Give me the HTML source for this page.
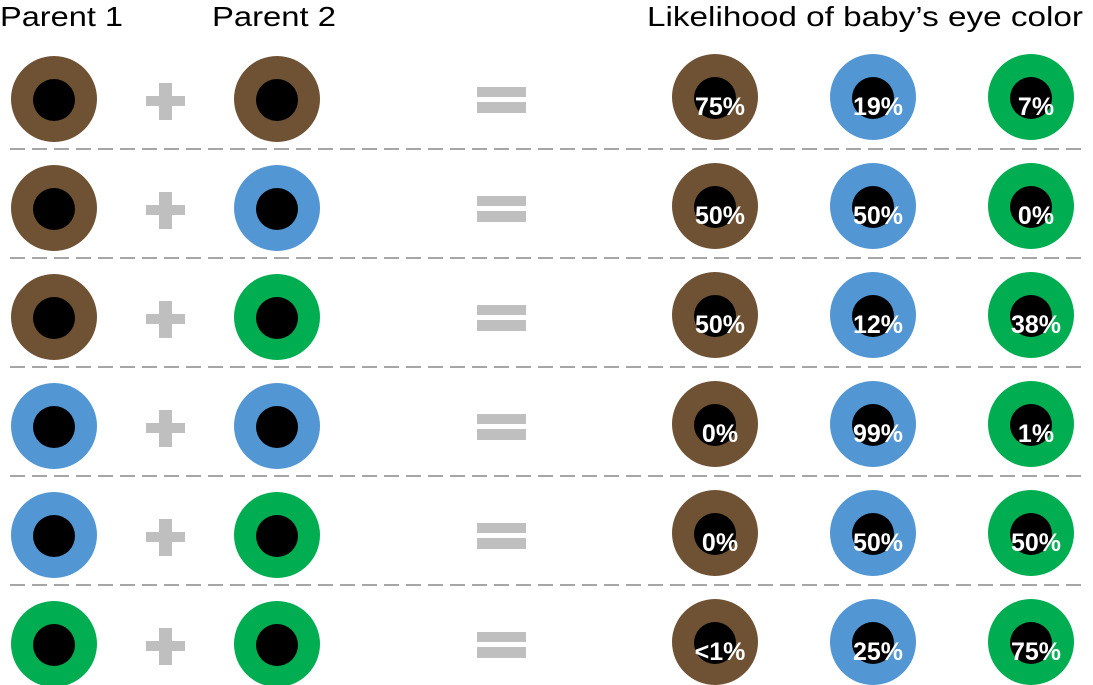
<!DOCTYPE html>
<html><head><meta charset="utf-8"><style>
html,body{margin:0;padding:0;background:#fff;}
svg{display:block;}
text{font-family:"Liberation Sans",sans-serif;}
</style></head><body>
<svg width="1093" height="685" viewBox="0 0 1093 685" xmlns="http://www.w3.org/2000/svg">
<text x="0" y="26" font-size="28" fill="#000" textLength="123" lengthAdjust="spacingAndGlyphs">Parent 1</text>
<text x="212" y="26" font-size="28" fill="#000" textLength="124" lengthAdjust="spacingAndGlyphs">Parent 2</text>
<text x="647" y="26" font-size="28" fill="#000" textLength="436" lengthAdjust="spacingAndGlyphs">Likelihood of baby’s eye color</text>
<g stroke="#a6a6a6" stroke-width="2" stroke-dasharray="15 7">
<line x1="10" y1="149" x2="1083" y2="149"/>
<line x1="10" y1="258" x2="1083" y2="258"/>
<line x1="10" y1="367" x2="1083" y2="367"/>
<line x1="10" y1="476" x2="1083" y2="476"/>
<line x1="10" y1="585" x2="1083" y2="585"/>
</g>
<g id="rows"></g>
</svg>
<script>
(function(){
var B="#6f5133",L="#5296d3",G="#00ad50";
var rows=[[B,B,"75%","19%","7%"],[B,L,"50%","50%","0%"],[B,G,"50%","12%","38%"],[L,L,"0%","99%","1%"],[L,G,"0%","50%","50%"],[G,G,"<1%","25%","75%"]];
var s="";
function eye(x,y,c){return '<circle cx="'+x+'" cy="'+y+'" r="43" fill="'+c+'"/><circle cx="'+x+'" cy="'+(y+1)+'" r="21" fill="#000"/>';}
rows.forEach(function(r,i){
var y=97+i*109;
s+=eye(54,y+2,r[0])+eye(277,y+2,r[1]);
s+='<rect x="146" y="'+(y-1)+'" width="39" height="10" fill="#bfbfbf"/><rect x="159" y="'+(y-14)+'" width="13" height="37" fill="#bfbfbf"/>';
s+='<rect x="477" y="'+(y-10)+'" width="49" height="10" fill="#bfbfbf"/><rect x="477" y="'+(y+5)+'" width="49" height="11" fill="#bfbfbf"/>';
var xs=[715,873,1031],cs=[B,L,G];
for(var k=0;k<3;k++){s+=eye(xs[k],y,cs[k]);
var t=r[2+k].replace("<","&lt;");
s+='<text x="'+(xs[k]+5)+'" y="'+(y+18)+'" font-size="25" font-weight="bold" fill="#fff" text-anchor="middle">'+t+'</text>';}
});
document.getElementById("rows").innerHTML=s;
})();
</script>
</body></html>
